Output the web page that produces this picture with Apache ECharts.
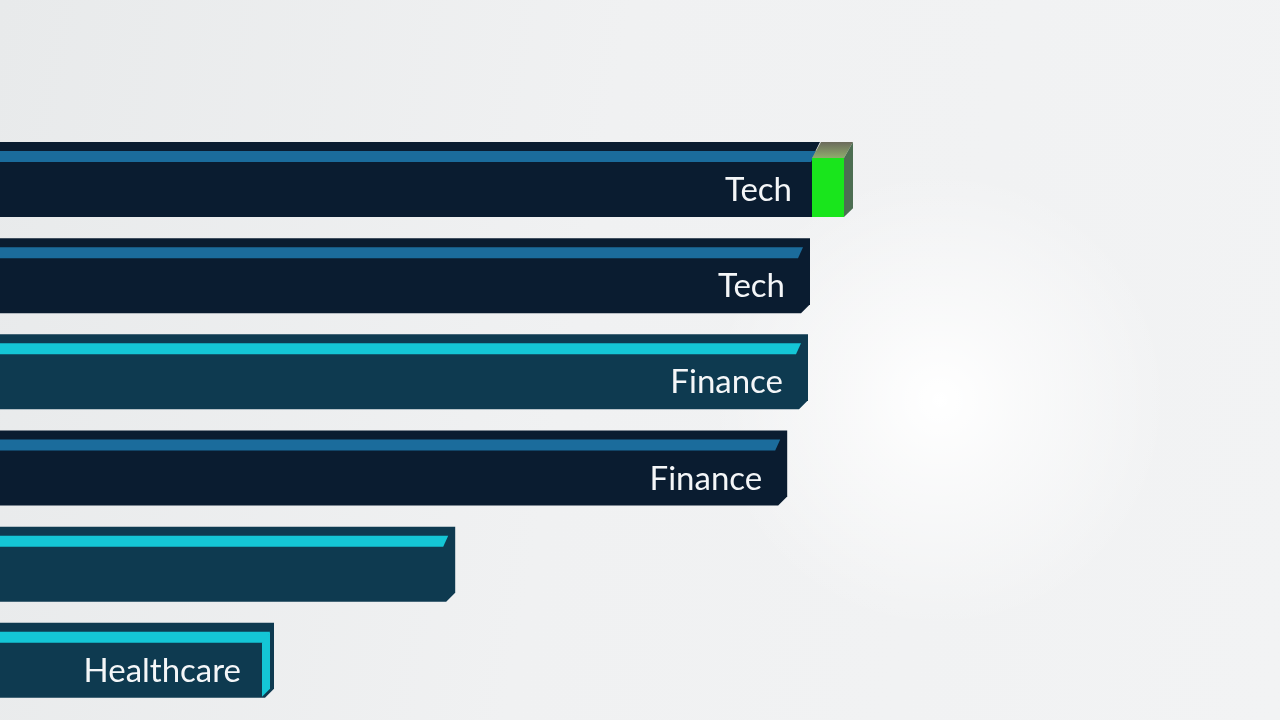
<!DOCTYPE html>
<html>
<head>
<meta charset="utf-8">
<script src="https://cdn.jsdelivr.net/npm/echarts@6/dist/echarts.min.js"></script>
<style>
html,body{margin:0;padding:0;width:1280px;height:720px;overflow:hidden;}
body{background:
 radial-gradient(circle at 940px 400px, rgba(255,255,255,1) 0px, rgba(255,255,255,0.6) 80px, rgba(255,255,255,0) 230px),
 linear-gradient(100deg,#e8eaeb 0%,#f0f1f2 45%,#f2f3f4 100%);}
#chart{width:1280px;height:720px;}
</style>
</head>
<body>
<div id="chart"></div>
<script>
// Data
const categories = ['Tech', 'Tech', 'Finance', 'Finance', '', 'Healthcare'];
const values = [101.5, 101.25, 101.0, 98.4, 56.9, 34.25];
const highlightExtra = [4.0, 0, 0, 0, 0, 0];
const themes = ['dark', 'dark', 'teal', 'dark', 'teal', 'teal'];
const sideFace = [false, false, false, false, false, true];

const palette = {
  dark: { body: '#0a1c30', stripe: '#1b6c9c' },
  teal: { body: '#0e3a50', stripe: '#14c6d6' }
};

const chart = echarts.init(document.getElementById('chart'));

const seriesData = values.map((v, i) => [i, v, highlightExtra[i]]);

function renderItem(params, api) {
  const i = api.value(0);
  const v = api.value(1);
  const extra = api.value(2);
  const start = api.coord([0, i]);
  const endP = api.coord([v, i]);
  const band = api.size([0, 1])[1];
  const h = band * 0.78;
  const top = start[1] - h / 2;
  const bottom = top + h;
  const x0 = start[0] - 2;
  const xe = endP[0];
  const pal = palette[themes[i]];
  const children = [];
  const ch = extra > 0 ? 0 : 9;
  // body
  children.push({
    type: 'polygon',
    shape: { points: [[x0, top], [xe + (extra > 0 ? 8 : 0), top], [xe, top + 16], [xe, bottom - ch], [xe - ch, bottom], [x0, bottom]] },
    style: { fill: pal.body }
  });
  // stripe
  const sTop = top + 9, sBot = top + 20;
  let sEnd = xe - 7;
  if (sideFace[i]) sEnd = xe - 4;
  if (extra > 0) sEnd = xe + 4;
  children.push({
    type: 'polygon',
    shape: { points: [[x0, sTop], [sEnd, sTop], [sEnd - 5, sBot], [x0, sBot]] },
    style: { fill: pal.stripe }
  });
  let labelEnd = xe;
  if (sideFace[i]) {
    children.push({
      type: 'polygon',
      shape: { points: [[xe - 12, sBot], [xe - 4, sTop], [xe - 4, bottom - 9], [xe - 12, bottom - 1]] },
      style: { fill: pal.stripe }
    });
    labelEnd = xe - 8;
  }
  if (extra > 0) {
    const gx1 = xe;
    const gx2 = api.coord([v + extra, i])[0];
    const dx = 9, dy = 16;
    const fTop = top + dy;
    // top face
    children.push({
      type: 'polygon',
      shape: { points: [[gx1, fTop], [gx2, fTop], [gx2 + dx, top], [gx1 + dx, top]] },
      style: { fill: new echarts.graphic.LinearGradient(0, 0, 0, 1, [
        { offset: 0, color: '#6b6a5c' }, { offset: 1, color: '#8fac6c' }]) }
    });
    // side face
    children.push({
      type: 'polygon',
      shape: { points: [[gx2, fTop], [gx2 + dx, top], [gx2 + dx, bottom - dy * 0.55], [gx2, bottom]] },
      style: { fill: '#4d6e52' }
    });
    // front face
    children.push({
      type: 'rect',
      shape: { x: gx1, y: fTop, width: gx2 - gx1, height: bottom - fTop },
      style: { fill: '#19e51c' }
    });
    labelEnd = xe + 5;
  }
  // label
  if (categories[i]) {
    children.push({
      type: 'text',
      style: {
        text: categories[i],
        x: labelEnd - 25,
        y: (sBot + bottom) / 2 + 1,
        align: 'right',
        verticalAlign: 'middle',
        fill: '#f4f6f8',
        font: '400 33px Lato, "Open Sans", sans-serif'
      }
    });
  }
  return { type: 'group', children };
}

chart.setOption({
  backgroundColor: 'transparent',
  animation: false,
  grid: { left: 0, right: 0, top: 131.4, bottom: 11.6 },
  xAxis: { type: 'value', min: 0, max: 160, show: false },
  yAxis: { type: 'category', data: categories.map((c, i) => i), inverse: true, show: false },
  series: [{
    type: 'custom',
    renderItem: renderItem,
    encode: { x: 1, y: 0 },
    data: seriesData
  }]
});
</script>
</body>
</html>
